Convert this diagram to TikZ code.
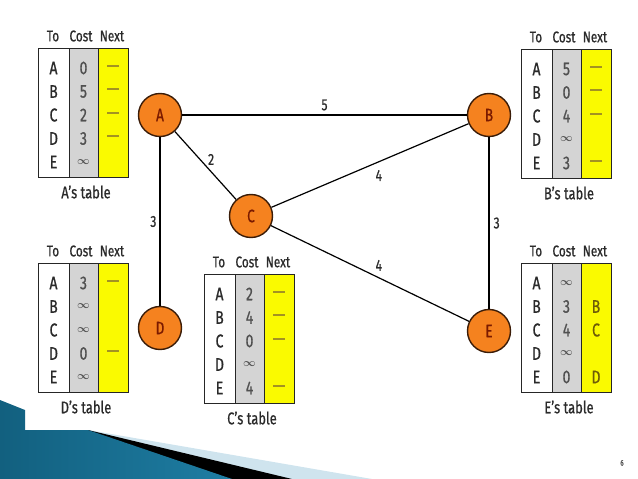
\documentclass[tikz,border=0pt]{standalone}
\usepackage{fontspec}
\setmainfont{Fira Sans}[FakeStretch=0.76, FakeBold=0.7]
\usepackage{amsmath}
\usetikzlibrary{positioning}
\definecolor{tgray}{HTML}{D4D4D4}
\definecolor{tyellow}{HTML}{FAFA00}
\definecolor{nodeor}{HTML}{F5821F}
\definecolor{nodebd}{HTML}{3A1C08}
\definecolor{nodetx}{HTML}{7A1A00}
\definecolor{txt}{HTML}{2A2A2A}
\definecolor{costtx}{HTML}{505050}
\definecolor{dashc}{HTML}{A39222}
\definecolor{nextc}{HTML}{6E5C08}
\definecolor{lblue}{HTML}{CFE4EE}
\definecolor{bdark}{HTML}{12607F}
\definecolor{bmid}{HTML}{58B8DE}
\definecolor{bright}{HTML}{1E7DA3}
\newcommand\infsym{{\fontsize{11}{11}\selectfont$\boldsymbol{\infty}$}}
\tikzset{
  router/.style={circle, draw=nodebd, line width=1.4pt, fill=nodeor, minimum size=43pt, inner sep=0pt,
    text=nodetx, font=\fontsize{18}{18}\selectfont},
  link/.style={line width=1.2pt, black},
  lbl/.style={font=\fontsize{16}{16}\selectfont, text=txt, inner sep=1pt},
  hdr/.style={font=\fontsize{15.5}{15.5}\selectfont, text=txt, inner sep=0pt},
  captxt/.style={font=\fontsize{17}{17}\selectfont, text=txt, inner sep=0pt},
  cell/.style={font=\fontsize{18.5}{18.5}\selectfont, inner sep=0pt},
  tline/.style={line width=0.9pt, draw=black!85},
}
\newcommand\rtab[4]{%
  \begin{scope}[shift={(#1,#2)}]
    \fill[white] (0,0) rectangle (31,129);
    \fill[tgray] (31,0) rectangle (60,129);
    \fill[tyellow] (60,0) rectangle (90,129);
    \draw[tline] (0,0) rectangle (90,129) (31,0) -- (31,129) (60,0) -- (60,129);
    \node[hdr] (#3-hto) at (15,-12) {To};
    \node[hdr] (#3-hcost) at (43,-12) {Cost};
    \node[hdr] (#3-hnext) at (74,-12) {Next};
    \node[captxt] (#3-cap) at (48,144) {#3’s table};
    \foreach \t/\c/\n [count=\i from 0] in {#4} {
      \node[cell, text=txt] (#3-to-\i) at (15.5,20+23.5*\i) {\t};
      \node[cell, text=costtx] (#3-cost-\i) at (45.5,20+23.5*\i) {\c};
      \node[cell, text=nextc] (#3-next-\i) at (75,20+23.5*\i) {\n};
    }
  \end{scope}}
\newcommand\dsh{\textcolor{dashc}{\rule[4.5pt]{12pt}{1.8pt}}}
\begin{document}
\begin{tikzpicture}[x=1pt,y=-1pt]
  \useasboundingbox (0,0) rectangle (638,479);
  % slide decoration
  \fill[lblue] (88,430) -- (372,479) -- (88,479) -- cycle;
  \fill[black] (88,430) -- (292,479) -- (88,479) -- cycle;
  \shade[left color=bdark, middle color=bmid, right color=bright]
    (0,400) -- (25,410) -- (25,430) -- (88,430) -- (232,479) -- (0,479) -- cycle;
  \node[font=\fontsize{8}{8}\selectfont, text=black!70] (pg) at (622,463) {6};
  % tables
  \rtab{38}{48}{A}{A/0/\dsh, B/5/\dsh, C/2/\dsh, D/3/\dsh, E/\infsym/{}}
  \rtab{521}{49}{B}{A/5/\dsh, B/0/\dsh, C/4/\dsh, D/\infsym/{}, E/3/\dsh}
  \rtab{38}{263}{D}{A/3/\dsh, B/\infsym/{}, C/\infsym/{}, D/0/\dsh, E/\infsym/{}}
  \rtab{204}{274}{C}{A/2/\dsh, B/4/\dsh, C/0/\dsh, D/\infsym/{}, E/4/\dsh}
  \rtab{521}{263}{E}{A/\infsym/{}, B/3/B, C/4/C, D/\infsym/{}, E/0/D}
  % routers
  \node[router] (A) at (160,115) {A};
  \node[router] (B) at (489,115) {B};
  \node[router] (C) at (251,216) {C};
  \node[router] (D) at (160,328) {D};
  \node[router] (E) at (489,331) {E};
  % links
  \draw[link] (A) -- (B) node[lbl, midway, above=3pt] (lAB) {5};
  \draw[link] (A) -- (C) node[lbl, midway, above right=-1pt and 1pt] (lAC) {2};
  \draw[link] (C) -- (B) node[lbl, midway, below right=3pt and 4pt] (lCB) {4};
  \draw[link] (A) -- (D) node[lbl, midway, left=2pt] (lAD) {3};
  \draw[link] (B) -- (E) node[lbl, midway, right=3pt] (lBE) {3};
  \draw[link] (C) -- (E) node[lbl, midway, above right=1pt and 4pt] (lCE) {4};
\end{tikzpicture}
\end{document}
